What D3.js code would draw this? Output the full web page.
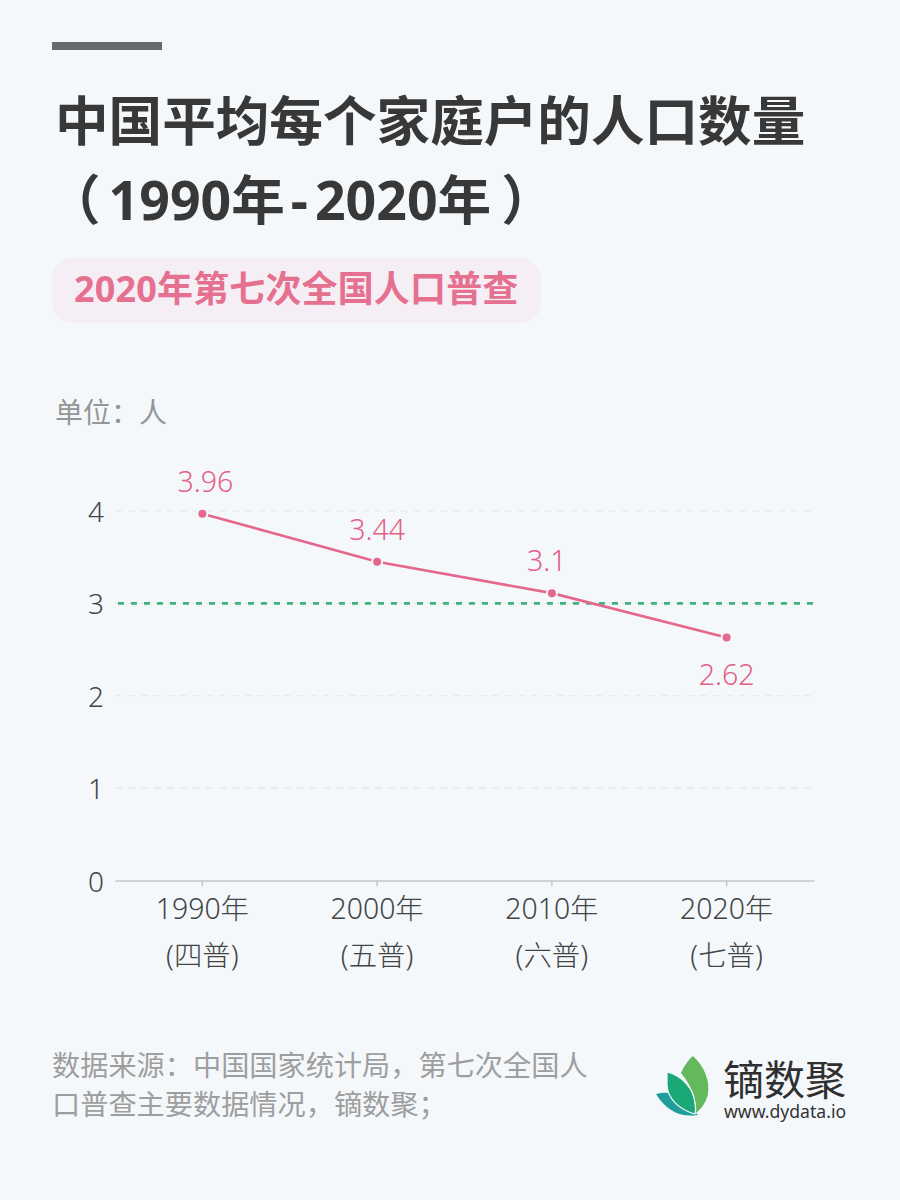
<!DOCTYPE html>
<html>
<head>
<meta charset="utf-8">
<script src="https://cdn.jsdelivr.net/npm/d3@7"></script>
<style>
html, body { margin: 0; padding: 0; background: #f4f8fb; }
text { font-family: "Noto Sans", "Noto Sans CJK SC", sans-serif; }
</style>
</head>
<body>
<div class="chart"></div>
<script>
const years = ["1990年", "2000年", "2010年", "2020年"];
const censuses = ["(四普)", "(五普)", "(六普)", "(七普)"];
const households = [3.96, 3.44, 3.1, 2.62];
const yTicks = [0, 1, 2, 3, 4];
const referenceValue = 3;

const bg = "#f4f8fb";
const pink = "#e5688c";

const svg = d3.select(".chart").append("svg")
    .attr("width", 900)
    .attr("height", 1200)
    .style("display", "block");

svg.append("rect").attr("width", 900).attr("height", 1200).attr("fill", bg);

// header
svg.append("rect").attr("x", 52).attr("y", 42).attr("width", 110).attr("height", 8).attr("fill", "#666a6b");

const title = svg.append("g").attr("fill", "#383838").attr("font-weight", 700).attr("font-size", 53.6);
title.append("text").attr("x", 55).attr("y", 141).text("中国平均每个家庭户的人口数量");
const title2 = title.append("text").attr("x", 47).attr("y", 220);
title2.append("tspan").text("（");
title2.append("tspan").attr("dx", 8).text("1990年");
title2.append("tspan").attr("dx", 6).text("-");
title2.append("tspan").attr("dx", 7).text("2020年");
title2.append("tspan").attr("dx", 10).text("）");

svg.append("rect").attr("x", 52).attr("y", 258).attr("width", 489).attr("height", 65).attr("rx", 20).attr("fill", "#f5eef4");
svg.append("text").attr("x", 74).attr("y", 302).attr("fill", "#e5708f").attr("font-weight", 700).attr("font-size", 36).attr("letter-spacing", 0.15).text("2020年第七次全国人口普查");

svg.append("text").attr("x", 55).attr("y", 423).attr("fill", "#969696").attr("font-size", 28).text("单位：人");

// chart
const x = d3.scaleBand().domain(years).range([115, 814]);
const y = d3.scaleLinear().domain([0, 4]).range([880.5, 511]);
const cx = (d, i) => x(years[i]) + x.bandwidth() / 2;

svg.append("g").selectAll("line")
    .data(yTicks.filter(d => d > 0))
    .enter().append("line")
    .attr("x1", 115).attr("x2", 814)
    .attr("y1", d => y(d)).attr("y2", d => y(d))
    .attr("stroke", "#e3e6ea").attr("stroke-width", 1.2).attr("stroke-dasharray", "7 6");

svg.append("line")
    .attr("x1", 118).attr("x2", 818)
    .attr("y1", y(referenceValue)).attr("y2", y(referenceValue))
    .attr("stroke", "#3fb27f").attr("stroke-width", 2.6).attr("stroke-dasharray", "6 7");

const xAxis = svg.append("g").attr("transform", "translate(0,880.5)")
    .call(d3.axisBottom(x).tickSizeInner(6).tickSizeOuter(0).tickPadding(0).tickFormat(""));
xAxis.selectAll("path, line").attr("stroke", "#c4c8cb").attr("stroke-width", 1.5);

svg.append("g").selectAll("text").data(yTicks).enter().append("text")
    .attr("x", 96).attr("y", d => y(d) + 11)
    .attr("text-anchor", "middle").attr("fill", "#444444").attr("font-size", 28).attr("font-weight", 300)
    .text(d => d);

const labels = svg.append("g").attr("fill", "#444444").attr("font-size", 28.4).attr("font-weight", 300).attr("text-anchor", "middle");
labels.selectAll(".year").data(years).enter().append("text")
    .attr("class", "year").attr("x", (d, i) => cx(d, i)).attr("y", 919).text(d => d);
labels.selectAll(".census").data(censuses).enter().append("text")
    .attr("class", "census").attr("x", (d, i) => cx(d, i)).attr("y", 966).text(d => d);

// line
const marks = svg.append("g").attr("transform", "translate(0,-1)");
const line = d3.line().x((d, i) => cx(d, i)).y(d => y(d));
marks.append("path").datum(households)
    .attr("d", line).attr("fill", "none").attr("stroke", pink).attr("stroke-width", 2.6);
marks.append("g").selectAll("circle").data(households).enter().append("circle")
    .attr("cx", (d, i) => cx(d, i)).attr("cy", d => y(d)).attr("r", 5)
    .attr("fill", pink).attr("stroke", bg).attr("stroke-width", 2);
marks.append("g").selectAll("text").data(households).enter().append("text")
    .attr("x", (d, i) => cx(d, i) + (i === 2 ? -5 : i === 0 ? 3 : 0))
    .attr("y", (d, i) => i === 3 ? y(d) + 48 : y(d) - 22)
    .attr("text-anchor", "middle").attr("fill", "#e35f86").attr("font-size", 28.6).attr("font-weight", 300)
    .text(d => d);

// footer
const source = svg.append("g").attr("fill", "#9e9e9e").attr("font-size", 28.2);
source.append("text").attr("x", 52).attr("y", 1076).text("数据来源：中国国家统计局，第七次全国人");
source.append("text").attr("x", 52).attr("y", 1115).text("口普查主要数据情况，镝数聚；");

// logo
const logo = svg.append("g");
logo.append("path").attr("d", "M656 1094 C668 1091 680 1094 686 1102 C690 1107 694 1112 698 1115 C680 1118 666 1110 656 1094 Z").attr("fill", "#1f9c9c");
logo.append("path").attr("d", "M693 1056 C704 1066 710 1080 708 1094 C706 1102 702 1108 696 1113 C697 1098 690 1084 681 1073 C684 1066 688 1060 693 1056 Z").attr("fill", "#63b95c");
logo.append("path").attr("d", "M667 1072 C682 1076 694 1088 695 1104 C696 1108 696 1111 695 1114 C680 1110 667 1099 667 1084 Z").attr("fill", "#1aa876").attr("stroke", bg).attr("stroke-width", 1.2);
logo.append("text").attr("x", 723).attr("y", 1095).attr("font-size", 41).attr("fill", "#2f2f2f").text("镝数聚");
logo.append("text").attr("x", 724).attr("y", 1118).attr("font-size", 17.6).attr("fill", "#333333").text("www.dydata.io");
</script>
</body>
</html>
